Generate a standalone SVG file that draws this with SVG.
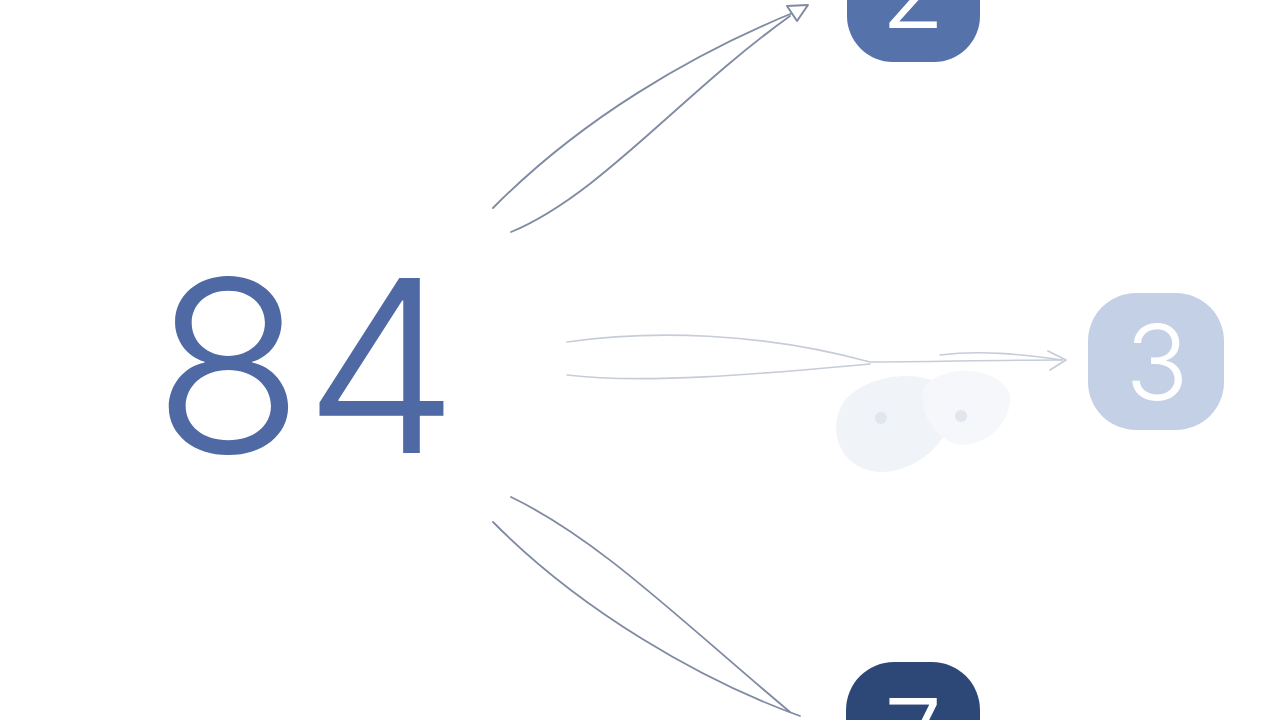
<svg xmlns="http://www.w3.org/2000/svg" width="1280" height="720" viewBox="0 0 1280 720">
  <defs>
    <style>
      .big { font-family: Inter, "Liberation Sans", sans-serif; font-weight: 300; fill: #4e69a3; }
      .nlabel { font-family: Inter, "Liberation Sans", sans-serif; font-weight: 300; fill: #ffffff; text-anchor: middle; }
      .edge { fill: none; stroke: #7f8aa3; stroke-width: 1.8; stroke-linecap: round; }
      .edge-light { fill: none; stroke: #c6ccd8; stroke-width: 1.6; stroke-linecap: round; }
      .head { fill: #ffffff; stroke: #7f8aa3; stroke-width: 2; stroke-linejoin: round; }
      .head-light { fill: none; stroke: #c6ccd8; stroke-width: 1.8; stroke-linejoin: round; stroke-linecap: round; }
    </style>
  </defs>
  <rect width="1280" height="720" fill="#ffffff"/>

  <g id="ghost">
    <path d="M845,400 C870,372 925,368 950,390 C965,420 930,472 880,472 C840,470 825,430 845,400 Z" fill="#f0f3f8"/>
    <path d="M925,385 C950,362 1000,368 1010,395 C1012,420 990,445 960,445 C935,440 915,410 925,385 Z" fill="#f5f7fb"/>
    <circle cx="881" cy="418" r="6" fill="#e0e5ee"/>
    <circle cx="961" cy="416" r="6" fill="#e0e5ee"/>
  </g>

  <g id="connectors">
    <path class="edge" d="M493,208 C580,120 690,55 795,12"/>
    <path class="edge" d="M511,232 C600,195 680,95 790,16"/>
    <path class="head" d="M808,5 L787,6 L797,21 Z"/>
    <path class="edge" d="M493,522 C580,610 700,680 800,716"/>
    <path class="edge" d="M511,497 C600,540 680,620 790,712"/>
    <path class="edge-light" d="M567,342 C650,330 760,332 870,362 C930,362 990,360 1062,360"/>
    <path class="edge-light" d="M567,375 C650,385 780,372 870,364"/>
    <path class="edge-light" d="M940,355 C980,350 1020,354 1062,360"/>
    <path class="head-light" d="M1066,360 L1048,351 M1066,360 L1050,370"/>
  </g>

  <g id="node-84">
    <text class="big" x="306" y="453" font-size="240" text-anchor="middle" textLength="306" lengthAdjust="spacingAndGlyphs">84</text>
  </g>

  <g id="node-2">
    <rect x="847" y="-70" width="133" height="132" rx="46" fill="#5672ab"/>
    <text class="nlabel" x="913" y="28" font-size="104">2</text>
  </g>

  <g id="node-3">
    <rect x="1088" y="293" width="136" height="137" rx="48" fill="#c4d0e6"/>
    <text class="nlabel" x="1157" y="400" font-size="104">3</text>
  </g>

  <g id="node-7">
    <rect x="846" y="662" width="134" height="134" rx="48" fill="#2d4877"/>
    <text class="nlabel" x="913" y="774" font-size="104">7</text>
  </g>
</svg>
